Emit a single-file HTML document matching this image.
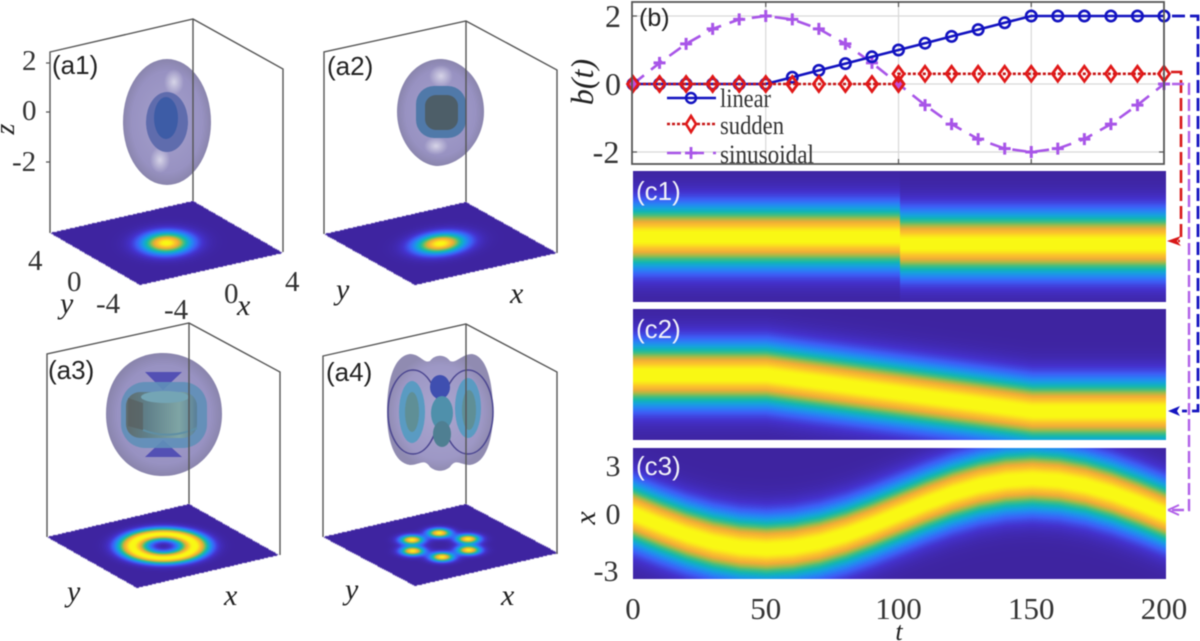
<!DOCTYPE html>
<html lang="en">
<head>
<meta charset="utf-8">
<title>Density evolution figure</title>
<style>
html,body{margin:0;padding:0;background:#fff;}
#fig{position:relative;width:1200px;height:641px;overflow:hidden;background:#fff;}
canvas{position:absolute;filter:blur(0.6px);}
svg{position:absolute;left:0;top:0;filter:blur(0.5px);}
.num{font-family:"Liberation Serif",serif;fill:#333;}
.it{font-family:"Liberation Serif",serif;font-style:italic;fill:#222;}
.pl{font-family:"Liberation Sans",sans-serif;fill:#222;}
.wl{font-family:"Liberation Sans",sans-serif;fill:#f2f2f8;}
.frame{fill:none;stroke:#555;stroke-width:1.4;}
</style>
</head>
<body>
<div id="fig">
<canvas id="floor-a1"></canvas>
<canvas id="floor-a2"></canvas>
<canvas id="floor-a3"></canvas>
<canvas id="floor-a4"></canvas>
<canvas id="heat-c1" width="533" height="131" style="left:633px;top:171px"></canvas>
<canvas id="heat-c2" width="533" height="131" style="left:633px;top:309px"></canvas>
<canvas id="heat-c3" width="533" height="131" style="left:633px;top:448px"></canvas>

<svg id="art" width="1200" height="641" viewBox="0 0 1200 641" xmlns="http://www.w3.org/2000/svg">
<defs>
<radialGradient id="glowA" cx="0.5" cy="0.5" r="0.5">
<stop offset="0" stop-color="#a5a1cc"/><stop offset="0.8" stop-color="#9892c2"/><stop offset="1" stop-color="#8a85ad"/>
</radialGradient>
<radialGradient id="hl" cx="0.5" cy="0.5" r="0.5">
<stop offset="0" stop-color="#fff" stop-opacity="0.6"/><stop offset="1" stop-color="#fff" stop-opacity="0"/>
</radialGradient>
<linearGradient id="innerG" x1="0" y1="0" x2="1" y2="0">
<stop offset="0" stop-color="#5f6c6e"/><stop offset="0.3" stop-color="#60808a"/><stop offset="0.75" stop-color="#7fa5a5"/><stop offset="1" stop-color="#5a8098"/>
</linearGradient>
</defs>

<!-- a1 -->
<g>
<g>
<ellipse cx="167" cy="122" rx="44" ry="63" fill="url(#glowA)"/>
<ellipse cx="174" cy="82" rx="10" ry="13" fill="url(#hl)"/>
<ellipse cx="160" cy="160" rx="10" ry="13" fill="url(#hl)"/>
<ellipse cx="167" cy="122" rx="21" ry="30" fill="#5f6cad"/>
<ellipse cx="166" cy="118" rx="12" ry="21" fill="#3d5ca6"/>
</g>
<path class="frame" d="M50,233V52L193,19L283,69V252M193,19V201"/>
<path d="M50,63h-4M50,112h-4M50,162h-4" stroke="#555" stroke-width="1.2"/>
<text class="pl" x="52" y="74" font-size="26">(a1)</text>
<text class="num" x="22" y="70" font-size="29">2</text>
<text class="num" x="22" y="120" font-size="29">0</text>
<text class="num" x="12" y="171" font-size="29">-2</text>
<text class="it" transform="translate(14,129) rotate(-90)" text-anchor="middle" font-size="28">z</text>
<text class="num" x="28" y="270" font-size="29">4</text>
<text class="num" x="67" y="291" font-size="29">0</text>
<text class="it" x="60" y="313" font-size="30">y</text>
<text class="num" x="96" y="313" font-size="29">-4</text>
<text class="num" x="164" y="319" font-size="29">-4</text>
<text class="num" x="224" y="303" font-size="29">0</text>
<text class="it" x="237" y="315" font-size="30">x</text>
<text class="num" x="285" y="291" font-size="29">4</text>
</g>

<!-- a2 -->
<g>
<g>
<path d="M440,59C462,59 484,80 484,112C484,140 462,166 436,166C416,164 397,140 397,112C397,84 414,60 440,59Z" fill="url(#glowA)"/>
<ellipse cx="441" cy="76" rx="12" ry="11" fill="url(#hl)"/>
<ellipse cx="436" cy="146" rx="12" ry="9" fill="url(#hl)"/>
<rect x="416" y="86" width="50" height="52" rx="18" fill="#5079a9"/>
<rect x="425" y="95" width="33" height="35" rx="11" fill="#4d5e68"/>
</g>
<path class="frame" d="M324,234V52L466,21L557,70V253M466,21V202"/>
<text class="pl" x="327" y="75" font-size="26">(a2)</text>
<text class="it" x="336" y="299" font-size="30">y</text>
<text class="it" x="510" y="303" font-size="30">x</text>
</g>

<!-- a3 -->
<g>
<g>
<path d="M163,353C195,353 222,376 222,414C222,450 195,476 163,476C130,476 106,450 106,414C106,376 130,353 163,353Z" fill="url(#glowA)"/>
<path d="M145,372H182L163,390Z" fill="#5350b4"/>
<path d="M145,457H182L163,440Z" fill="#5350b4"/>
<rect x="121" y="382" width="86" height="66" rx="24" fill="#5f8fb8" opacity="0.9"/>
<rect x="126" y="392" width="71" height="46" rx="14" fill="url(#innerG)"/>
<ellipse cx="165" cy="397" rx="24" ry="6" fill="#74a5b5"/>
<path d="M128,398L143,403V430L128,426Z" fill="#58605f" opacity="0.7"/>
<path d="M143,430C160,437 180,436 197,428" stroke="#5f8fa5" fill="none" stroke-width="2"/>
</g>
<path class="frame" d="M47,537V354L189,323L280,372V555M189,323V504"/>
<text class="pl" x="48" y="379" font-size="26">(a3)</text>
<text class="it" x="67" y="601" font-size="30">y</text>
<text class="it" x="224" y="605" font-size="30">x</text>
</g>

<!-- a4 -->
<g>
<g>
<path d="M387,412C387,380 394,356 410,354C420,354 424,364 430,361C435,354 445,354 450,361C456,364 462,354 472,354C486,356 493,380 493,412C493,440 486,463 470,465C460,465 456,458 450,467C444,472 436,472 430,467C424,458 420,465 410,465C394,463 387,440 387,412Z" fill="url(#glowA)" opacity="0.95"/>
<ellipse cx="413" cy="412" rx="25" ry="42" fill="none" stroke="#4a4590" stroke-width="1.5"/>
<ellipse cx="468" cy="412" rx="25" ry="42" fill="none" stroke="#4a4590" stroke-width="1.5"/>
<ellipse cx="440" cy="387" rx="10" ry="12" fill="#3f4fb0"/>
<ellipse cx="442" cy="413" rx="11" ry="17" fill="#4f90ab"/>
<ellipse cx="442" cy="434" rx="9" ry="13" fill="#4f7f92"/>
<ellipse cx="412" cy="412" rx="13" ry="31" fill="#5a9bc2"/>
<ellipse cx="412" cy="412" rx="7" ry="20" fill="#5f8f96"/>
<ellipse cx="468" cy="408" rx="13" ry="30" fill="#5a9bc2"/>
<ellipse cx="469" cy="410" rx="7" ry="20" fill="#5f8f96"/>
</g>
<path class="frame" d="M323,537V356L466,324L557,372V554M466,324V504"/>
<text class="pl" x="326" y="381" font-size="26">(a4)</text>
<text class="it" x="345" y="599" font-size="30">y</text>
<text class="it" x="501" y="605" font-size="30">x</text>
</g>

<!-- panel b static -->
<g id="panel-b">
<g id="grid"></g>
<g id="series"></g>
<rect x="632" y="2" width="532" height="162" fill="none" stroke="#555" stroke-width="1.8"/>
<g id="yticks"></g>
<text class="it" transform="translate(593,82) rotate(-90)" text-anchor="middle" font-size="32">b(t)</text>
<text class="pl" x="639" y="26" font-size="25">(b)</text>

<g>
<g>
<line x1="667" x2="716" y1="98" y2="98" stroke="#1212c0" stroke-width="2.4"/>
<circle cx="691" cy="98" r="5" fill="none" stroke="#1212c0" stroke-width="2.4"/>
<text class="num" x="720" y="107" font-size="26" textLength="51" lengthAdjust="spacingAndGlyphs">linear</text>
</g>
<g>
<line x1="667" x2="716" y1="124" y2="124" stroke="#c81414" stroke-width="2.4" stroke-dasharray="3 2"/>
<path d="M691,116L696,124L691,132L686,124Z" fill="#fff" stroke="#e01818" stroke-width="2.6"/>
<text class="num" x="720" y="134" font-size="26" textLength="64" lengthAdjust="spacingAndGlyphs">sudden</text>
</g>
<g>
<line x1="667" x2="716" y1="153" y2="153" stroke="#a855e8" stroke-width="2.6" stroke-dasharray="14 9"/>
<path d="M691,147V159M685,153H697" stroke="#a855e8" stroke-width="2.8"/>
<text class="num" x="720" y="163" font-size="26" textLength="94" lengthAdjust="spacingAndGlyphs">sinusoidal</text>
</g>
</g>
</g>

<!-- c labels -->
<text class="wl" x="636" y="200" font-size="26">(c1)</text>
<text class="wl" x="636" y="338" font-size="26">(c2)</text>
<text class="wl" x="636" y="475" font-size="26">(c3)</text>

<text class="num" x="613" y="476" text-anchor="middle" font-size="30">3</text>
<text class="num" x="613" y="524" text-anchor="middle" font-size="30">0</text>
<text class="num" x="606" y="581" text-anchor="middle" font-size="30">-3</text>
<text class="it" transform="translate(595,518) rotate(-90)" text-anchor="middle" font-size="30">x</text>
<g id="tticks"></g>
<text class="it" x="899" y="640" text-anchor="middle" font-size="26">t</text>

<!-- connector arrows -->
<g>
<path d="M1172,16H1198V411H1182" fill="none" stroke="#1414c0" stroke-width="2.8" stroke-dasharray="13 5"/>
<path d="M1168,411L1180,406L1177,411L1180,416Z" fill="#1414c0"/>
</g>
<g>
<path d="M1171,72H1181V241H1178" fill="none" stroke="#d81818" stroke-width="2.6" stroke-dasharray="13 5"/>
<path d="M1167,241L1181,236L1177,241L1181,246Z" fill="#d81818"/>
</g>
<g>
<path d="M1172,84H1189V510H1172" fill="none" stroke="#b060e8" stroke-width="2.4" stroke-dasharray="12 4"/>
<path d="M1168,510L1179,505M1168,510L1179,515" fill="none" stroke="#b060e8" stroke-width="1.8"/>
</g>
</svg>
</div>

<script>
// ---- line chart data ----
var tValues = [0,10,20,30,40,50,60,70,80,90,100,110,120,130,140,150,160,170,180,190,200];
var linearValues = [0,0,0,0,0,0,0.2,0.4,0.6,0.8,1,1.2,1.4,1.6,1.8,2,2,2,2,2,2];
var suddenTimes = [0,10,20,30,40,50,60,70,80,90,100,100,110,120,130,140,150,160,170,180,190,200];
var suddenValues = [0,0,0,0,0,0,0,0,0,0,0,0.3,0.3,0.3,0.3,0.3,0.3,0.3,0.3,0.3,0.3,0.3];
var sinusoidalValues = [0,0.62,1.18,1.62,1.9,2,1.9,1.62,1.18,0.62,0,-0.62,-1.18,-1.62,-1.9,-2,-1.9,-1.62,-1.18,-0.62,0];
var yTickLabels = [2,0,-2];
var tTickLabels = [0,50,100,150,200];
var tGridValues = [50,100,150];

// ---- heatmap data: packet centre x(t) ----
var c1Times = [0,100,100,200];
var c1Centers = [0,0,-0.4,-0.4];
var c2Times = [0,50,150,200];
var c2Centers = [0,0,-2.08,-2.08];
var c3Times = [0,10,20,30,40,50,60,70,80,90,100,110,120,130,140,150,160,170,180,190,200];
var c3Centers = [0,-0.62,-1.18,-1.62,-1.9,-2,-1.9,-1.62,-1.18,-0.62,0,0.62,1.18,1.62,1.9,2,1.9,1.62,1.18,0.62,0];
var packetWidth = 1.2;

// ---- floor density data ----
var a1Peaks = {x:[0],y:[0],sx:[2.4],sy:[2.5]};
var a2Peaks = {x:[0],y:[0],sx:[2.5],sy:[2.3]};
var a4PeaksX = [-4,-3.9,-0.1,0.3,4,4.1];
var a4PeaksY = [-1.7,2,-4,4,-2,1.7];

var NS = 'http://www.w3.org/2000/svg';
function tx(t){ return 633 + t * 2.655; }
function by(v){ return 84 - v * 34; }

var stops = [
 [0,62,36,160],[0.1,68,50,205],[0.2,62,92,245],[0.3,40,130,245],[0.4,22,162,222],
 [0.5,18,182,178],[0.6,70,190,125],[0.7,165,186,70],[0.8,240,172,55],[0.9,252,198,42],[1,249,248,20]
];
function cmap(f){
  f = Math.max(0, Math.min(1, f));
  for (var i = 1; i < stops.length; i++) {
    if (f <= stops[i][0]) {
      var a = stops[i-1], b = stops[i], k = (f-a[0])/(b[0]-a[0]);
      return [a[1]+(b[1]-a[1])*k, a[2]+(b[2]-a[2])*k, a[3]+(b[3]-a[3])*k];
    }
  }
  return [249,248,20];
}
function lerpAt(ts, vs, t){
  for (var i = 1; i < ts.length; i++) {
    if (t <= ts[i]) {
      var d = ts[i]-ts[i-1];
      if (d === 0) return vs[i];
      return vs[i-1] + (vs[i]-vs[i-1])*(t-ts[i-1])/d;
    }
  }
  return vs[vs.length-1];
}

function drawHeat(id, ts, cs){
  var cv = document.getElementById(id), g = cv.getContext('2d');
  var W = cv.width, H = cv.height, im = g.createImageData(W, H);
  var pxPerX = 17.5;
  for (var px = 0; px < W; px++) {
    var t = px / (W-1) * 200;
    var c = lerpAt(ts, cs, t);
    for (var py = 0; py < H; py++) {
      var x = (H/2 - py) / pxPerX;
      var d = (x - c) / packetWidth;
      var f = Math.exp(-d*d/2) * 1.03;
      var col = cmap(f), o = (py*W+px)*4;
      im.data[o] = col[0]; im.data[o+1] = col[1]; im.data[o+2] = col[2]; im.data[o+3] = 255;
    }
  }
  g.putImageData(im, 0, 0);
}
drawHeat('heat-c1', c1Times, c1Centers);
drawHeat('heat-c2', c2Times, c2Centers);
drawHeat('heat-c3', c3Times, c3Centers);

function drawFloor(id, L, B, R, F, field){
  var cv = document.getElementById(id);
  var x0 = L[0], y0 = B[1], W = R[0]-L[0]+1, H = F[1]-B[1]+1;
  cv.width = W; cv.height = H;
  cv.style.left = x0 + 'px'; cv.style.top = y0 + 'px';
  var g = cv.getContext('2d');
  var ax = F[0]-L[0], ay = F[1]-L[1], bx = B[0]-L[0], by2 = B[1]-L[1];
  var det = ax*by2 - ay*bx;
  var im = g.createImageData(W, H);
  var cx = (L[0]+R[0])/2, cy = (B[1]+F[1])/2;
  for (var py = 0; py < H; py++) for (var px = 0; px < W; px++) {
    var sx = x0+px+0.5, sy = y0+py+0.5;
    var rx = sx-L[0], ry = sy-L[1];
    var u = (rx*by2 - ry*bx)/det, v = (ax*ry - ay*rx)/det;
    var o = (py*W+px)*4;
    if (u < 0 || u > 1 || v < 0 || v > 1) continue;
    var c = cmap(field(sx-cx, sy-cy));
    im.data[o] = c[0]; im.data[o+1] = c[1]; im.data[o+2] = c[2]; im.data[o+3] = 255;
  }
  g.putImageData(im, 0, 0);
}
function gaussField(pk){
  return function(dx, dy){
    var a = (dx/7 - pk.x[0])/pk.sx[0], b = ((dy + dx*0.02)/3 - pk.y[0])/pk.sy[0];
    return Math.exp(-(a*a+b*b)/2)*1.02;
  };
}
drawFloor('floor-a1',[50,233],[193,201],[283,252],[140,285], gaussField(a1Peaks));
drawFloor('floor-a2',[324,234],[466,202],[557,253],[415,285], function(dx,dy){
  var a = dx/7/a2Peaks.sx[0], b = (dy+dx*0.09)/3/a2Peaks.sy[0];
  return Math.exp(-(a*a+b*b)/2)*1.02;
});
drawFloor('floor-a3',[47,537],[189,504],[280,555],[137,588], function(dx,dy){
  var r = Math.sqrt(dx*dx/(31*31) + dy*dy/(12*12));
  var d = (r-1)/0.36;
  return Math.exp(-d*d/2)*1.02;
});
drawFloor('floor-a4',[323,537],[466,504],[557,554],[415,586], function(dx,dy){
  var s = 0;
  for (var i = 0; i < a4PeaksX.length; i++) {
    var a = (dx/7 - a4PeaksX[i])/1.15, b = (dy/3 - a4PeaksY[i])/1.05;
    s += Math.exp(-(a*a+b*b)/2);
  }
  return s*1.0;
});

// ---- line chart ----
function mk(tag, parent, attrs){
  var el = document.createElementNS(NS, tag);
  for (var k in attrs) el.setAttribute(k, attrs[k]);
  parent.appendChild(el);
  return el;
}
var grid = document.getElementById('grid');
tGridValues.forEach(function(t){
  var l = mk('line', grid, {x1:tx(t), x2:tx(t), y1:2, y2:164, stroke:'#d8d8d8', 'stroke-width':1.2});
  
  
  var m = mk('path', grid, {d:'M'+tx(t)+',2v5M'+tx(t)+',164v-5', stroke:'#555', 'stroke-width':1.2});
  
  
});
var yTickG = document.getElementById('yticks');
yTickLabels.forEach(function(v){
  var l = mk('line', grid, {x1:632, x2:1164, y1:by(v), y2:by(v), stroke:'#d8d8d8', 'stroke-width':1.2});
  
  
  var m = mk('path', grid, {d:'M632,'+by(v)+'h5M1164,'+by(v)+'h-5', stroke:'#555', 'stroke-width':1.2});
  
  
  var tk = mk('text', yTickG, {x: v < 0 ? 606 : 613, y: by(v)+11, 'text-anchor':'middle', 'font-size':32, 'class':'num'});
  tk.textContent = v;
  
  
});
var tTickG = document.getElementById('tticks');
tTickLabels.forEach(function(t){
  var tk = mk('text', tTickG, {x: tx(t), y: 619, 'text-anchor':'middle', 'font-size':31, 'class':'num'});
  tk.textContent = t;
  
  
});

var layer = document.getElementById('series');
function pts(ts, vs){ return ts.map(function(t,i){ return tx(t)+','+by(vs[i]); }).join(' '); }

var sinLine = mk('polyline', layer, {points:pts(tValues, sinusoidalValues), fill:'none', stroke:'#a855e8', 'stroke-width':2.6, 'stroke-dasharray':'14 9'});


tValues.forEach(function(t,i){
  var x = tx(t), y = by(sinusoidalValues[i]);
  var p = mk('path', layer, {d:'M'+x+','+(y-6)+'V'+(y+6)+'M'+(x-6)+','+y+'H'+(x+6), stroke:'#a855e8', 'stroke-width':3, fill:'none'});
  
  
});

var linLine = mk('polyline', layer, {points:pts(tValues, linearValues), fill:'none', stroke:'#1212c0', 'stroke-width':2.6});


tValues.forEach(function(t,i){
  var c = mk('circle', layer, {cx:tx(t), cy:by(linearValues[i]), r:5.2, fill:'none', stroke:'#1212c0', 'stroke-width':2.6});
  
  
});

var sudLine = mk('polyline', layer, {points:pts(suddenTimes, suddenValues), fill:'none', stroke:'#c81414', 'stroke-width':2.6, 'stroke-dasharray':'3 2'});


suddenTimes.forEach(function(t,i){
  var x = tx(t), y = by(suddenValues[i]);
  var filled = (i === 0 || i === 10);
  var d = mk('path', layer, {d:'M'+x+','+(y-7.5)+'L'+(x+5.5)+','+y+'L'+x+','+(y+7.5)+'L'+(x-5.5)+','+y+'Z', fill: filled ? '#c24fd8' : 'none', stroke:'#e01818', 'stroke-width':2.8});
  
  
});
</script>
</body>
</html>
